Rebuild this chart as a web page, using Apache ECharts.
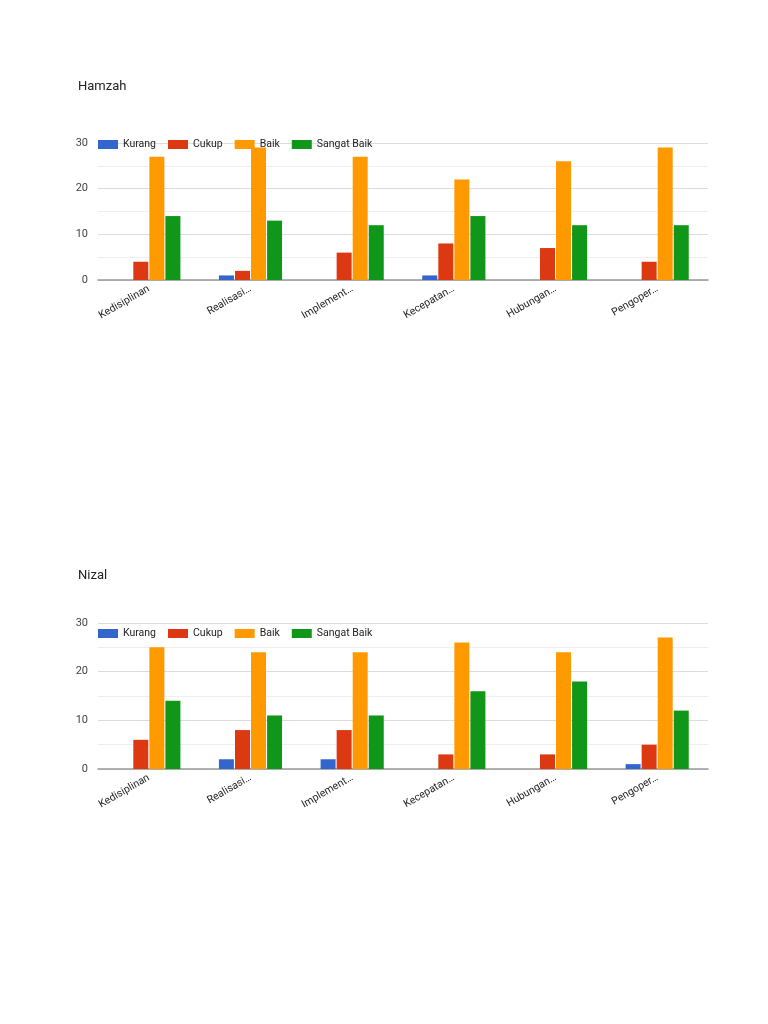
<!DOCTYPE html>
<html><head><meta charset="utf-8">
<script src="https://cdn.jsdelivr.net/npm/echarts@6/dist/echarts.min.js"></script>
<style>html,body{margin:0;padding:0;background:#fff;}#c{width:768px;height:1024px;}</style>
</head><body><div id="c"></div>
<script>
const categories = ['Kedisiplinan','Realisasi…','Implement…','Kecepatan…','Hubungan…','Pengoper…'];
const seriesNames = ['Kurang','Cukup','Baik','Sangat Baik'];
const colors = ['#3366cc','#dc3912','#ff9900','#109618'];
const yTicks = [0,10,20,30];
// Hamzah
const hamzahKurang = [0,1,0,1,0,0];
const hamzahCukup = [4,2,6,8,7,4];
const hamzahBaik = [27,29,27,22,26,29];
const hamzahSangatBaik = [14,13,12,14,12,12];
// Nizal
const nizalKurang = [0,2,2,0,0,1];
const nizalCukup = [6,8,8,3,3,5];
const nizalBaik = [25,24,24,26,24,27];
const nizalSangatBaik = [14,11,11,16,18,12];

const hamzah = [hamzahKurang,hamzahCukup,hamzahBaik,hamzahSangatBaik];
const nizal = [nizalKurang,nizalCukup,nizalBaik,nizalSangatBaik];

const chart = echarts.init(document.getElementById('c'));
const font = 'Roboto, Arial, sans-serif';
function xAxis(g){return {type:'category',gridIndex:g,data:categories,
  axisLine:{lineStyle:{color:'#999',width:1.5}},axisTick:{show:false},
  axisLabel:{rotate:30,fontSize:10.5,color:'#222',fontFamily:font,margin:8}};}
function yAxis(g){return {type:'value',gridIndex:g,min:yTicks[0],max:yTicks[yTicks.length-1],interval:10,
  axisLine:{show:false},axisTick:{show:false},
  axisLabel:{fontSize:11,color:'#444',fontFamily:font,margin:10},
  splitLine:{lineStyle:{color:'#dcdcdc'}},
  minorTick:{show:false,splitNumber:2},
  minorSplitLine:{show:true,lineStyle:{color:'#eeeeee'}}};}
const series=[];
[hamzah,nizal].forEach((set,g)=>{
  set.forEach((d,i)=>{
    series.push({name:seriesNames[i],type:'bar',xAxisIndex:g,yAxisIndex:g,data:d,
      barWidth:15,barGap:'7%',itemStyle:{color:colors[i]},emphasis:{disabled:true}});
  });
});
function legend(top){return {left:93,top:top,itemWidth:20,itemHeight:9,itemGap:12,icon:'rect',
  data:seriesNames,textStyle:{fontSize:10.5,color:'#222',fontFamily:font}};}
chart.setOption({
  animation:false,
  color:colors,
  title:[{text:'Hamzah',left:73,top:75,textStyle:{fontSize:13,fontWeight:'normal',color:'#222',fontFamily:font}},
         {text:'Nizal',left:73,top:564,textStyle:{fontSize:13,fontWeight:'normal',color:'#222',fontFamily:font}}],
  legend:[legend(134),legend(623)],
  grid:[{left:98,top:143,width:610,height:137},{left:98,top:623,width:610,height:146}],
  xAxis:[xAxis(0),xAxis(1)],
  yAxis:[yAxis(0),yAxis(1)],
  series:series
});
</script></body></html>
